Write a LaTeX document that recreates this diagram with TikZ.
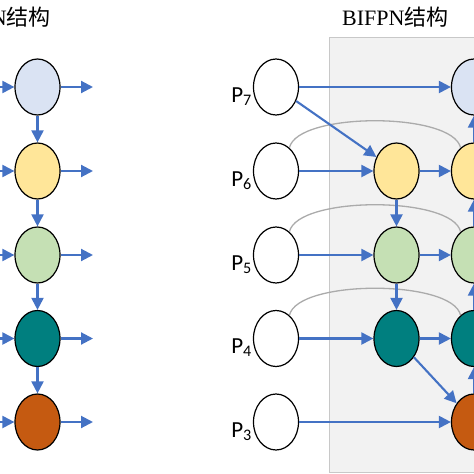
\documentclass[tikz,border=0pt]{standalone}
\usepackage{fontspec}
\setmainfont{Liberation Serif}
\newfontfamily\cjk{Noto Sans CJK SC}
\newfontfamily\lblfont{Carlito}
\usetikzlibrary{arrows.meta,shapes.geometric}
\definecolor{arrowblue}{HTML}{4472C4}
\definecolor{cblue}{HTML}{DAE3F3}
\definecolor{cyellow}{HTML}{FFE699}
\definecolor{cgreen}{HTML}{C5E0B4}
\definecolor{cteal}{HTML}{007F7F}
\definecolor{corange}{HTML}{C55A11}
\definecolor{boxfill}{HTML}{F2F2F2}
\definecolor{boxline}{HTML}{C8C8C8}
\definecolor{arcgray}{HTML}{ABABAB}
\tikzset{
  feat/.style={ellipse, draw=black, line width=1.2pt, minimum width=45pt, minimum height=56pt, inner sep=0pt},
  conn/.style={draw=arrowblue, line width=2.1pt, -{Triangle[length=12pt,width=12pt]}},
  skiparc/.style={draw=arcgray, line width=1.3pt},
  plabel/.style={font=\lblfont\fontsize{23}{24}\selectfont, anchor=base east, inner sep=0pt},
  ttl/.style={font=\fontsize{22}{24}\selectfont, inner sep=0pt}
}
\begin{document}
\begin{tikzpicture}[x=1pt,y=-1pt]
\useasboundingbox (0,0) rectangle (474,474);
\clip (0,0) rectangle (474,474);
% titles
\node[ttl, anchor=base east] (t1) at (51,25) {FPN{\cjk 结构}};
\node[ttl, anchor=base west] (t2) at (342,25) {BIFPN{\cjk 结构}};
% gray box
\fill[boxfill, draw=boxline, line width=0.8pt] (329,37) rectangle (490,472.5);
% left column
\foreach \n/\y/\c in {l7/87/cblue, l6/171/cyellow, l5/255/cgreen, l4/338.5/cteal, l3/422/corange}{
  \node[feat, fill=\c] (\n) at (37.5,\y) {};
  \coordinate (\n in) at (-6,\y);
  \coordinate (\n out) at (93,\y);
}
\foreach \n in {l7,l6,l5,l4,l3}{
  \draw[conn] (\n in) -- (\n);
  \draw[conn] (\n) -- (\n out);
}
\draw[conn] (l7) -- (l6);
\draw[conn] (l6) -- (l5);
\draw[conn] (l5) -- (l4);
\draw[conn] (l4) -- (l3);
% right part nodes
\foreach \n/\y in {p7/87, p6/171, p5/255, p4/338.5, p3/422}{
  \node[feat, fill=white] (\n) at (276,\y) {};
}
\node[plabel] (lp7) at (252,102) {P\textsubscript{7}};
\node[plabel] (lp6) at (252,186) {P\textsubscript{6}};
\node[plabel] (lp5) at (252,270) {P\textsubscript{5}};
\node[plabel] (lp4) at (252,353) {P\textsubscript{4}};
\node[plabel] (lp3) at (252,437) {P\textsubscript{3}};
\node[feat, fill=cyellow] (m6) at (396.5,171) {};
\node[feat, fill=cgreen] (m5) at (396.5,255) {};
\node[feat, fill=cteal] (m4) at (396.5,338.5) {};
\node[feat, fill=cblue] (r7) at (474,87) {};
\node[feat, fill=cyellow] (r6) at (474,171) {};
\node[feat, fill=cgreen] (r5) at (474,255) {};
\node[feat, fill=cteal] (r4) at (474,338.5) {};
\node[feat, fill=corange] (r3) at (474,422) {};
% skip arcs
\draw[skiparc] (p6.60) .. controls +(8,-36) and +(-8,-36) .. (r6.120);
\draw[skiparc] (p5.60) .. controls +(8,-36) and +(-8,-36) .. (r5.120);
\draw[skiparc] (p4.60) .. controls +(8,-36) and +(-8,-36) .. (r4.120);
% connections
\draw[conn] (p7) -- (r7);
\draw[conn] (p7) -- (m6);
\draw[conn] (p6) -- (m6);
\draw[conn] (m6) -- (r6);
\draw[conn] (p5) -- (m5);
\draw[conn] (m5) -- (r5);
\draw[conn] (p4) -- (m4);
\draw[conn] (m4) -- (r4);
\draw[conn] (m6) -- (m5);
\draw[conn] (m5) -- (m4);
\draw[conn] (m4) -- (r3);
\draw[conn] (p3) -- (r3);
\draw[conn] (r3) -- (r4);
\draw[conn] (r4) -- (r5);
\draw[conn] (r5) -- (r6);
\draw[conn] (r6) -- (r7);
\end{tikzpicture}
\end{document}
